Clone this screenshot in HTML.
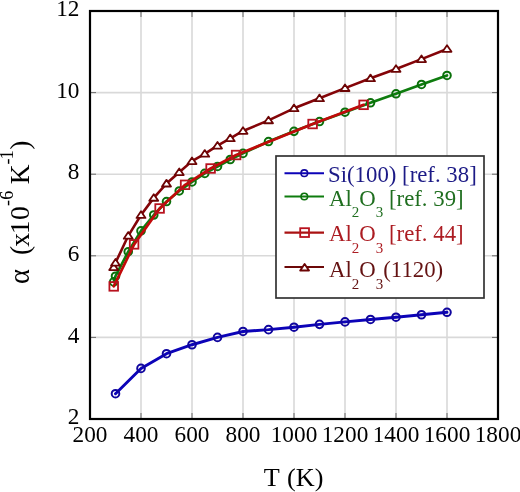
<!DOCTYPE html><html><head><meta charset="utf-8"><style>html,body{margin:0;padding:0;background:#fff;}svg{display:block;}</style></head><body>
<svg width="520" height="492" viewBox="0 0 520 492" font-family="'Liberation Serif', 'Times New Roman', serif">
<rect width="520" height="492" fill="#fff"/>
<path d="M141.00 11.00V419.00M192.00 11.00V419.00M243.00 11.00V419.00M294.00 11.00V419.00M345.00 11.00V419.00M396.00 11.00V419.00M447.00 11.00V419.00M90.00 337.40H498.00M90.00 255.80H498.00M90.00 174.20H498.00M90.00 92.60H498.00" stroke="#d9d9d9" stroke-width="1.6" fill="none"/>
<path d="M141.00 419.00v-6.00M141.00 11.00v6.00M192.00 419.00v-6.00M192.00 11.00v6.00M243.00 419.00v-6.00M243.00 11.00v6.00M294.00 419.00v-6.00M294.00 11.00v6.00M345.00 419.00v-6.00M345.00 11.00v6.00M396.00 419.00v-6.00M396.00 11.00v6.00M447.00 419.00v-6.00M447.00 11.00v6.00M90.00 337.40h6.00M498.00 337.40h-6.00M90.00 255.80h6.00M498.00 255.80h-6.00M90.00 174.20h6.00M498.00 174.20h-6.00M90.00 92.60h6.00M498.00 92.60h-6.00" stroke="#6a6a6a" stroke-width="1" fill="none"/>
<polyline points="115.50,393.70 141.00,368.41 166.50,353.72 192.00,344.74 217.50,337.40 243.00,331.48 268.50,329.65 294.00,327.20 319.50,324.34 345.00,321.90 370.50,319.45 396.00,317.20 421.50,314.76 447.00,312.31" fill="none" stroke="#0c03b8" stroke-width="2.9" stroke-linejoin="round" stroke-linecap="round"/>
<circle cx="115.50" cy="393.70" r="3.8" fill="none" stroke="#10069e" stroke-width="2.0"/>
<circle cx="141.00" cy="368.41" r="3.8" fill="none" stroke="#10069e" stroke-width="2.0"/>
<circle cx="166.50" cy="353.72" r="3.8" fill="none" stroke="#10069e" stroke-width="2.0"/>
<circle cx="192.00" cy="344.74" r="3.8" fill="none" stroke="#10069e" stroke-width="2.0"/>
<circle cx="217.50" cy="337.40" r="3.8" fill="none" stroke="#10069e" stroke-width="2.0"/>
<circle cx="243.00" cy="331.48" r="3.8" fill="none" stroke="#10069e" stroke-width="2.0"/>
<circle cx="268.50" cy="329.65" r="3.8" fill="none" stroke="#10069e" stroke-width="2.0"/>
<circle cx="294.00" cy="327.20" r="3.8" fill="none" stroke="#10069e" stroke-width="2.0"/>
<circle cx="319.50" cy="324.34" r="3.8" fill="none" stroke="#10069e" stroke-width="2.0"/>
<circle cx="345.00" cy="321.90" r="3.8" fill="none" stroke="#10069e" stroke-width="2.0"/>
<circle cx="370.50" cy="319.45" r="3.8" fill="none" stroke="#10069e" stroke-width="2.0"/>
<circle cx="396.00" cy="317.20" r="3.8" fill="none" stroke="#10069e" stroke-width="2.0"/>
<circle cx="421.50" cy="314.76" r="3.8" fill="none" stroke="#10069e" stroke-width="2.0"/>
<circle cx="447.00" cy="312.31" r="3.8" fill="none" stroke="#10069e" stroke-width="2.0"/>
<polyline points="113.72,281.91 115.50,276.20 128.25,251.72 141.00,230.91 153.75,215.00 166.50,201.54 179.25,190.93 192.00,181.95 204.75,173.38 217.50,166.45 230.25,159.51 243.00,153.39 268.50,141.56 294.00,131.36 319.50,121.57 345.00,112.18 370.50,102.80 396.00,93.82 421.50,84.44 447.00,75.46" fill="none" stroke="#0e7c0e" stroke-width="2.7" stroke-linejoin="round" stroke-linecap="round"/>
<circle cx="113.72" cy="281.91" r="3.8" fill="none" stroke="#0a700a" stroke-width="2.0"/>
<circle cx="115.50" cy="276.20" r="3.8" fill="none" stroke="#0a700a" stroke-width="2.0"/>
<circle cx="128.25" cy="251.72" r="3.8" fill="none" stroke="#0a700a" stroke-width="2.0"/>
<circle cx="141.00" cy="230.91" r="3.8" fill="none" stroke="#0a700a" stroke-width="2.0"/>
<circle cx="153.75" cy="215.00" r="3.8" fill="none" stroke="#0a700a" stroke-width="2.0"/>
<circle cx="166.50" cy="201.54" r="3.8" fill="none" stroke="#0a700a" stroke-width="2.0"/>
<circle cx="179.25" cy="190.93" r="3.8" fill="none" stroke="#0a700a" stroke-width="2.0"/>
<circle cx="192.00" cy="181.95" r="3.8" fill="none" stroke="#0a700a" stroke-width="2.0"/>
<circle cx="204.75" cy="173.38" r="3.8" fill="none" stroke="#0a700a" stroke-width="2.0"/>
<circle cx="217.50" cy="166.45" r="3.8" fill="none" stroke="#0a700a" stroke-width="2.0"/>
<circle cx="230.25" cy="159.51" r="3.8" fill="none" stroke="#0a700a" stroke-width="2.0"/>
<circle cx="243.00" cy="153.39" r="3.8" fill="none" stroke="#0a700a" stroke-width="2.0"/>
<circle cx="268.50" cy="141.56" r="3.8" fill="none" stroke="#0a700a" stroke-width="2.0"/>
<circle cx="294.00" cy="131.36" r="3.8" fill="none" stroke="#0a700a" stroke-width="2.0"/>
<circle cx="319.50" cy="121.57" r="3.8" fill="none" stroke="#0a700a" stroke-width="2.0"/>
<circle cx="345.00" cy="112.18" r="3.8" fill="none" stroke="#0a700a" stroke-width="2.0"/>
<circle cx="370.50" cy="102.80" r="3.8" fill="none" stroke="#0a700a" stroke-width="2.0"/>
<circle cx="396.00" cy="93.82" r="3.8" fill="none" stroke="#0a700a" stroke-width="2.0"/>
<circle cx="421.50" cy="84.44" r="3.8" fill="none" stroke="#0a700a" stroke-width="2.0"/>
<circle cx="447.00" cy="75.46" r="3.8" fill="none" stroke="#0a700a" stroke-width="2.0"/>
<polyline points="113.72,286.40 134.12,244.38 159.62,208.47 185.12,184.81 210.62,168.49 236.12,155.02 312.62,124.02 363.62,104.84" fill="none" stroke="#c20a0a" stroke-width="2.7" stroke-linejoin="round" stroke-linecap="round"/>
<rect x="109.42" y="282.10" width="8.6" height="8.6" fill="none" stroke="#b8121e" stroke-width="1.8"/>
<rect x="129.81" y="240.08" width="8.6" height="8.6" fill="none" stroke="#b8121e" stroke-width="1.8"/>
<rect x="155.31" y="204.17" width="8.6" height="8.6" fill="none" stroke="#b8121e" stroke-width="1.8"/>
<rect x="180.81" y="180.51" width="8.6" height="8.6" fill="none" stroke="#b8121e" stroke-width="1.8"/>
<rect x="206.31" y="164.19" width="8.6" height="8.6" fill="none" stroke="#b8121e" stroke-width="1.8"/>
<rect x="231.81" y="150.72" width="8.6" height="8.6" fill="none" stroke="#b8121e" stroke-width="1.8"/>
<rect x="308.31" y="119.72" width="8.6" height="8.6" fill="none" stroke="#b8121e" stroke-width="1.8"/>
<rect x="359.31" y="100.54" width="8.6" height="8.6" fill="none" stroke="#b8121e" stroke-width="1.8"/>
<polyline points="113.72,267.22 115.50,262.74 128.25,235.81 141.00,215.00 153.75,197.86 166.50,183.58 179.25,172.16 192.00,161.14 204.75,153.80 217.50,145.64 230.25,138.30 243.00,130.95 268.50,120.34 294.00,108.31 319.50,98.31 345.00,88.11 370.50,78.32 396.00,68.94 421.50,59.14 447.00,48.94" fill="none" stroke="#840408" stroke-width="2.6" stroke-linejoin="round" stroke-linecap="round"/>
<path d="M113.72 263.52L118.22 270.12L109.22 270.12Z" fill="#fff" stroke="#6c0404" stroke-width="1.8" stroke-linejoin="round"/>
<path d="M115.50 259.04L120.00 265.64L111.00 265.64Z" fill="#fff" stroke="#6c0404" stroke-width="1.8" stroke-linejoin="round"/>
<path d="M128.25 232.11L132.75 238.71L123.75 238.71Z" fill="#fff" stroke="#6c0404" stroke-width="1.8" stroke-linejoin="round"/>
<path d="M141.00 211.30L145.50 217.90L136.50 217.90Z" fill="#fff" stroke="#6c0404" stroke-width="1.8" stroke-linejoin="round"/>
<path d="M153.75 194.16L158.25 200.76L149.25 200.76Z" fill="#fff" stroke="#6c0404" stroke-width="1.8" stroke-linejoin="round"/>
<path d="M166.50 179.88L171.00 186.48L162.00 186.48Z" fill="#fff" stroke="#6c0404" stroke-width="1.8" stroke-linejoin="round"/>
<path d="M179.25 168.46L183.75 175.06L174.75 175.06Z" fill="#fff" stroke="#6c0404" stroke-width="1.8" stroke-linejoin="round"/>
<path d="M192.00 157.44L196.50 164.04L187.50 164.04Z" fill="#fff" stroke="#6c0404" stroke-width="1.8" stroke-linejoin="round"/>
<path d="M204.75 150.10L209.25 156.70L200.25 156.70Z" fill="#fff" stroke="#6c0404" stroke-width="1.8" stroke-linejoin="round"/>
<path d="M217.50 141.94L222.00 148.54L213.00 148.54Z" fill="#fff" stroke="#6c0404" stroke-width="1.8" stroke-linejoin="round"/>
<path d="M230.25 134.60L234.75 141.20L225.75 141.20Z" fill="#fff" stroke="#6c0404" stroke-width="1.8" stroke-linejoin="round"/>
<path d="M243.00 127.25L247.50 133.85L238.50 133.85Z" fill="#fff" stroke="#6c0404" stroke-width="1.8" stroke-linejoin="round"/>
<path d="M268.50 116.64L273.00 123.24L264.00 123.24Z" fill="#fff" stroke="#6c0404" stroke-width="1.8" stroke-linejoin="round"/>
<path d="M294.00 104.61L298.50 111.21L289.50 111.21Z" fill="#fff" stroke="#6c0404" stroke-width="1.8" stroke-linejoin="round"/>
<path d="M319.50 94.61L324.00 101.21L315.00 101.21Z" fill="#fff" stroke="#6c0404" stroke-width="1.8" stroke-linejoin="round"/>
<path d="M345.00 84.41L349.50 91.01L340.50 91.01Z" fill="#fff" stroke="#6c0404" stroke-width="1.8" stroke-linejoin="round"/>
<path d="M370.50 74.62L375.00 81.22L366.00 81.22Z" fill="#fff" stroke="#6c0404" stroke-width="1.8" stroke-linejoin="round"/>
<path d="M396.00 65.24L400.50 71.84L391.50 71.84Z" fill="#fff" stroke="#6c0404" stroke-width="1.8" stroke-linejoin="round"/>
<path d="M421.50 55.44L426.00 62.04L417.00 62.04Z" fill="#fff" stroke="#6c0404" stroke-width="1.8" stroke-linejoin="round"/>
<path d="M447.00 45.24L451.50 51.84L442.50 51.84Z" fill="#fff" stroke="#6c0404" stroke-width="1.8" stroke-linejoin="round"/>
<rect x="90.0" y="11.0" width="408.0" height="408.0" fill="none" stroke="#000" stroke-width="2.2"/>
<text transform="translate(90.00,442) scale(0.97,1)" font-size="24" text-anchor="middle" fill="#000">200</text>
<text transform="translate(141.00,442) scale(0.97,1)" font-size="24" text-anchor="middle" fill="#000">400</text>
<text transform="translate(192.00,442) scale(0.97,1)" font-size="24" text-anchor="middle" fill="#000">600</text>
<text transform="translate(243.00,442) scale(0.97,1)" font-size="24" text-anchor="middle" fill="#000">800</text>
<text transform="translate(294.00,442) scale(0.97,1)" font-size="24" text-anchor="middle" fill="#000">1000</text>
<text transform="translate(345.00,442) scale(0.97,1)" font-size="24" text-anchor="middle" fill="#000">1200</text>
<text transform="translate(396.00,442) scale(0.97,1)" font-size="24" text-anchor="middle" fill="#000">1400</text>
<text transform="translate(447.00,442) scale(0.97,1)" font-size="24" text-anchor="middle" fill="#000">1600</text>
<text transform="translate(498.00,442) scale(0.97,1)" font-size="24" text-anchor="middle" fill="#000">1800</text>
<text transform="translate(79.5,424.20) scale(0.97,1)" font-size="24" text-anchor="end" fill="#000">2</text>
<text transform="translate(79.5,342.60) scale(0.97,1)" font-size="24" text-anchor="end" fill="#000">4</text>
<text transform="translate(79.5,261.00) scale(0.97,1)" font-size="24" text-anchor="end" fill="#000">6</text>
<text transform="translate(79.5,179.40) scale(0.97,1)" font-size="24" text-anchor="end" fill="#000">8</text>
<text transform="translate(79.5,97.80) scale(0.97,1)" font-size="24" text-anchor="end" fill="#000">10</text>
<text transform="translate(79.5,16.20) scale(0.97,1)" font-size="24" text-anchor="end" fill="#000">12</text>
<text y="485.5" font-size="26.2" fill="#000"><tspan x="263.8">T</tspan><tspan x="287.1">(K)</tspan></text>
<g transform="translate(28.8,0) rotate(-90)" fill="#000">
<text x="-284.04" y="0.0" font-size="28.5">α</text>
<text x="-254.89" y="0.0" font-size="27.5">(</text>
<text x="-246.68" y="0.0" font-size="27.5">x</text>
<text x="-234.21" y="0.0" font-size="27.5">1</text>
<text x="-220.07" y="0.0" font-size="27.5">0</text>
<text x="-205.91" y="-16.3" font-size="18">-</text>
<text x="-199.67" y="-16.3" font-size="18">6</text>
<text x="-184.18" y="0.0" font-size="27.5">K</text>
<text x="-164.51" y="-16.3" font-size="18">-</text>
<text x="-159.15" y="-16.3" font-size="18">1</text>
<text x="-149.67" y="0.0" font-size="27.5">)</text>
</g>
<rect x="276" y="156" width="208" height="142" fill="#fff" stroke="#333" stroke-width="1.7"/>
<path d="M284.5 173.2H324" stroke="#0c03b8" stroke-width="2.1"/>
<circle cx="304.3" cy="173.2" r="3.3" fill="none" stroke="#10069e" stroke-width="1.6"/>
<text transform="translate(328.0,181.8) scale(1,1.04)" font-size="22.8" fill="#1c1a86">Si(100) [ref. 38]</text>
<path d="M284.5 196.5H324" stroke="#0e7c0e" stroke-width="2.1"/>
<circle cx="304.3" cy="196.5" r="3.3" fill="none" stroke="#0a700a" stroke-width="1.6"/>
<text transform="translate(329.0,205.5) scale(1,1.04)" font-size="22.8" fill="#1f6e1f">Al<tspan font-size="15" dy="11.5">2</tspan><tspan dy="-11.5">O</tspan><tspan font-size="15" dy="11.5">3</tspan><tspan dy="-11.5"> [ref. 39]</tspan></text>
<path d="M284.5 232.6H324" stroke="#aa1212" stroke-width="2.1"/>
<rect x="300.2" y="228.2" width="8.8" height="8.8" fill="none" stroke="#b8121e" stroke-width="1.8"/>
<text transform="translate(329.0,241.2) scale(1,1.04)" font-size="22.8" fill="#ac1c22">Al<tspan font-size="15" dy="11.5">2</tspan><tspan dy="-11.5">O</tspan><tspan font-size="15" dy="11.5">3</tspan><tspan dy="-11.5"> [ref. 44]</tspan></text>
<path d="M284.5 267.0H324" stroke="#6c0808" stroke-width="2.1"/>
<path d="M304.6 264.0L309 270.5L300.2 270.5Z" fill="#fff" stroke="#6c0404" stroke-width="1.9" stroke-linejoin="round"/>
<text transform="translate(329.0,277.3) scale(1,1.04)" font-size="22.8" fill="#641212">Al<tspan font-size="15" dy="11.5">2</tspan><tspan dy="-11.5">O</tspan><tspan font-size="15" dy="11.5">3</tspan><tspan dy="-11.5">(1120)</tspan></text>
</svg></body></html>
